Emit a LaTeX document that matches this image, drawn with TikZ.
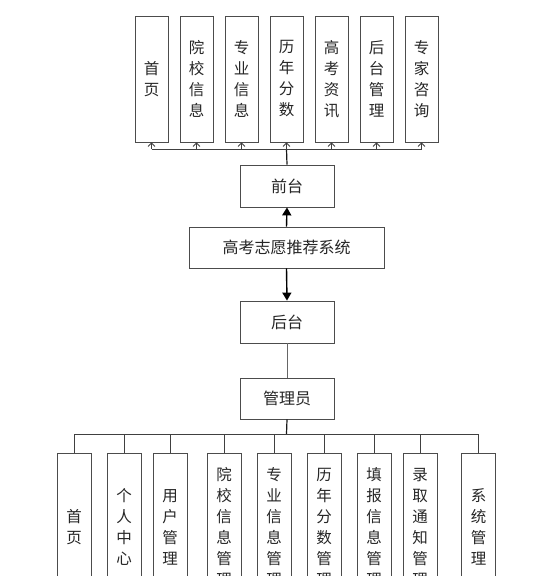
\documentclass[tikz,border=0pt]{standalone}
\usepackage{fontspec}
\setmainfont{Noto Sans CJK SC}
\usetikzlibrary{arrows.meta}
\begin{document}
\begin{tikzpicture}[x=1pt,y=-1pt,
  base/.style={draw=black!70, line width=0.8pt, fill=white, inner sep=0pt, text=black!85},
  tbox/.style={base, minimum width=33pt, minimum height=126pt, align=center, font=\fontsize{15.5}{21}\selectfont},
  bbox/.style={base, minimum width=34pt, minimum height=148pt, align=center, font=\fontsize{15.5}{21}\selectfont},
  hbox/.style={base, minimum width=94pt, minimum height=42pt, font=\fontsize{16}{18}\selectfont},
  link/.style={draw=black!75, line width=0.8pt},
  trunk/.style={draw=black!90, line width=1.2pt},
  bigarrow/.style={draw=black, line width=1.4pt, -{Triangle[length=8pt,width=9pt]}},
  smallarrow/.style={link, -{Straight Barb[length=3.5pt,width=7pt]}}
]
\useasboundingbox (0,0) rectangle (544,576);
\clip (0,0) rectangle (544,576);

% top row
\node[tbox] (t1) at (151.5,79) {首\\页};
\node[tbox] (t2) at (196.5,79) {院\\校\\信\\息};
\node[tbox] (t3) at (241.5,79) {专\\业\\信\\息};
\node[tbox] (t4) at (286.5,79) {历\\年\\分\\数};
\node[tbox] (t5) at (331.5,79) {高\\考\\资\\讯};
\node[tbox] (t6) at (376.5,79) {后\\台\\管\\理};
\node[tbox] (t7) at (421.5,79) {专\\家\\咨\\询};

% middle
\node[hbox] (front) at (287,186) {前台};
\node[hbox, minimum width=195pt, minimum height=41pt] (sys) at (286.5,247.5) {高考志愿推荐系统};
\node[hbox] (back) at (287,322) {后台};
\node[hbox, minimum height=41pt] (admin) at (287,398.5) {管理员};

\coordinate (tb) at (286.5,149);
\draw[trunk] (front.north) -- (tb);
\draw[link] (t1.south |- tb) -- (t7.south |- tb);
\foreach \i in {1,...,7} {\draw[smallarrow] (t\i.south |- tb) -- (t\i.south);}

\draw[bigarrow] (sys.north) -- (front.south);
\draw[bigarrow] (sys.south) -- (back.north);
\draw[draw=black!60, line width=0.6pt] (back.south) -- (admin.north);

% bottom row
\node[bbox] (b1) at (74,527) {首\\页};
\node[bbox] (b2) at (124,527) {个\\人\\中\\心};
\node[bbox] (b3) at (170,527) {用\\户\\管\\理};
\node[bbox] (b4) at (224,527) {院\\校\\信\\息\\管\\理};
\node[bbox] (b5) at (274,527) {专\\业\\信\\息\\管\\理};
\node[bbox] (b6) at (324,527) {历\\年\\分\\数\\管\\理};
\node[bbox] (b7) at (374,527) {填\\报\\信\\息\\管\\理};
\node[bbox] (b8) at (420,527) {录\\取\\通\\知\\管\\理};
\node[bbox] (b9) at (478.5,527) {系\\统\\管\\理};

\coordinate (bb) at (286.5,434);
\draw[trunk] (admin.south) -- (bb);
\draw[link] (b1.north |- bb) -- (b9.north |- bb);
\foreach \i in {1,...,9} {\draw[link] (b\i.north |- bb) -- (b\i.north);}
\end{tikzpicture}
\end{document}
